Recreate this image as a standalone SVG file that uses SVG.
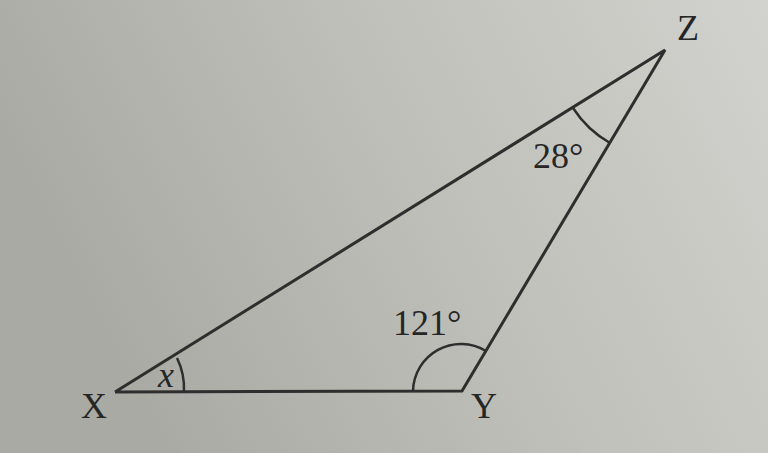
<svg xmlns="http://www.w3.org/2000/svg" width="768" height="453" viewBox="0 0 768 453">
<defs>
<linearGradient id="bg" x1="0" y1="0.3" x2="1" y2="0">
<stop offset="0" stop-color="#a9aaa3"/>
<stop offset="0.5" stop-color="#c0c0ba"/>
<stop offset="1" stop-color="#d2d2ce"/>
</linearGradient>
<style>
.ln{fill:none;stroke:#2e2e2e;stroke-width:3;stroke-linejoin:miter}
.arc{fill:none;stroke:#2e2e2e;stroke-width:2.5}
.t{font-family:"Liberation Serif",serif;font-size:36px;fill:#262626}
</style>
</defs>
<rect width="768" height="453" fill="url(#bg)"/>
<g id="connectors">
<polyline class="ln" points="115,392 462,391 665,50 115,392"/>
</g>
<g id="X">
<path class="arc" d="M184,392 A70,70 0 0 0 177,358"/>
<text class="t" x="94" y="418" text-anchor="middle">X</text>
<text class="t" x="166" y="387" text-anchor="middle" font-style="italic">x</text>
</g>
<g id="Y">
<path class="arc" d="M413,391 A48,48 0 0 1 486,351"/>
<text class="t" x="484" y="418" text-anchor="middle">Y</text>
<text class="t" x="393" y="335">121°</text>
</g>
<g id="Z">
<path class="arc" d="M573,108 A108,108 0 0 0 610,143"/>
<text class="t" x="688" y="40" text-anchor="middle">Z</text>
<text class="t" x="533" y="168">28°</text>
</g>
</svg>
